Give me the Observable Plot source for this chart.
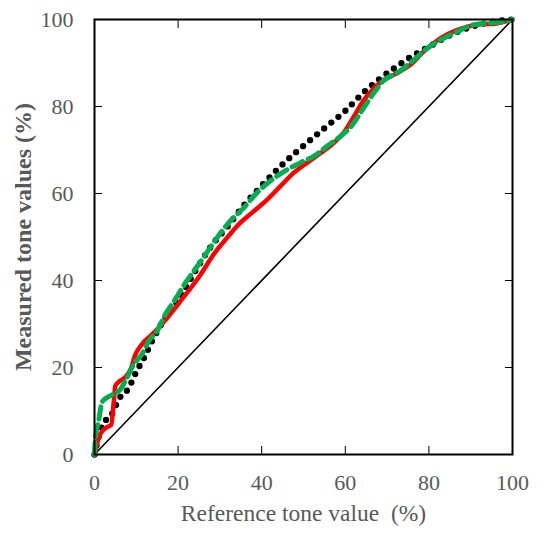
<!DOCTYPE html>
<html>
<head>
<meta charset="utf-8">
<script src="https://cdn.jsdelivr.net/npm/d3@7"></script>
<script src="https://cdn.jsdelivr.net/npm/@observablehq/plot@0.6"></script>
<style>
  body { margin: 0; background: #fff; }
</style>
</head>
<body>
<div id="chart"></div>
<script>
// values (reference tone %, measured tone %)
const dottedX = [0, 2, 4, 6, 8, 10, 12, 14, 16, 18, 20, 24, 28, 32, 36, 40, 44, 48, 52, 56, 60, 64, 68, 72, 76, 80, 84, 88, 92, 96, 100];
const dottedY = [0, 7, 9, 13, 15, 19, 22.5, 26.5, 30, 33, 35.5, 42, 48, 52.6, 57.6, 61.8, 65.8, 69.3, 72.6, 75.8, 79, 82.9, 86.2, 89, 91.6, 93.7, 95.9, 97.6, 98.8, 99.6, 100];

const redX = [0, 0.5, 1.4, 3, 4, 4.6, 5, 6.2, 7.4, 8.6, 9.8, 11.4, 13.4, 15.4, 17.8, 20.6, 25.4, 28.5, 31.7, 34.5, 37.7, 41, 44.5, 47.7, 50.9, 54.1, 57.2, 59.6, 62, 64.4, 66.8, 70, 73.2, 75.6, 78.8, 82.8, 86.8, 91.5, 96.3, 100];
const redY = [0, 2, 4.7, 6.3, 6.8, 12, 15.8, 17, 17.8, 19.5, 23, 25.4, 27.3, 29.2, 31.9, 35.3, 41.4, 46, 49.8, 52.9, 55.6, 58.3, 61.7, 64.8, 67.1, 69.3, 71.6, 74, 77.6, 81.4, 84.2, 86.5, 88.1, 89.6, 92.7, 95.7, 97.6, 98.8, 99.1, 100];

const greenX = [0, 0.2, 1, 1.8, 3, 4.6, 6.2, 7.8, 9.4, 11.4, 13, 15, 17, 18.6, 21.8, 26.1, 29.3, 32.5, 35.7, 38.9, 42.5, 46.1, 49.3, 52.5, 55.7, 58.9, 61.2, 64.4, 66.8, 69.2, 72.4, 76, 79.6, 82.8, 86.8, 90, 93.1, 97.1, 100];
const greenY = [0, 3.6, 7.8, 12, 13.1, 13.9, 15, 17.7, 20.8, 23.1, 26.1, 28.4, 32.3, 34.6, 39.5, 45.3, 49.8, 53.7, 56.7, 60.2, 63.2, 65.5, 67.1, 68.6, 70.9, 73.2, 75.2, 79.7, 83.1, 86, 87.7, 90.4, 93.4, 95.3, 97.2, 98.6, 99.1, 99.4, 100];

const diagonal = [0, 100];
const ticks = [0, 20, 40, 60, 80, 100];

const pts = (xs, ys) => xs.map((x, i) => ({x, y: ys[i]}));

const chart = Plot.plot({
  width: 550,
  height: 537,
  marginLeft: 94,
  marginRight: 38,
  marginTop: 19,
  marginBottom: 83,
  style: {fontFamily: "Liberation Serif", fontSize: "22px", color: "#595959", background: "#fff"},
  x: {domain: [0, 100]},
  y: {domain: [0, 100]},
  marks: [
    // labels
    Plot.axisX(ticks, {tickSize: 0, tickPadding: 20, label: null}),
    Plot.axisY(ticks, {tickSize: 0, tickPadding: 21, label: null}),
    // inward ticks on all four sides
    Plot.axisX(ticks, {anchor: "bottom", tickSize: -8, stroke: "black", tickFormat: () => "", label: null}),
    Plot.axisX(ticks, {anchor: "top", tickSize: -8, stroke: "black", tickFormat: () => "", label: null}),
    Plot.axisY(ticks, {anchor: "left", tickSize: -8, stroke: "black", tickFormat: () => "", label: null}),
    Plot.axisY(ticks, {anchor: "right", tickSize: -8, stroke: "black", tickFormat: () => "", label: null}),
    Plot.line(pts(diagonal, diagonal), {x: "x", y: "y", stroke: "black", strokeWidth: 1.6}),
    Plot.line(pts(dottedX, dottedY), {
      x: "x", y: "y", curve: "monotone-x", stroke: "black",
      strokeWidth: 6.3, strokeDasharray: "0 9.2", strokeLinecap: "round"
    }),
    Plot.line(pts(redX, redY), {x: "x", y: "y", curve: "monotone-x", stroke: "#ff0000", strokeWidth: 4.5}),
    Plot.line(pts(greenX, greenY), {
      x: "x", y: "y", curve: "monotone-x", stroke: "#00b050",
      strokeWidth: 5, strokeDasharray: "12 6"
    }),
    Plot.frame({stroke: "black", strokeWidth: 2}),
    Plot.text(["Reference tone value \u00a0(%)"], {frameAnchor: "bottom", dy: 66, fill: "#595959", fontSize: 23.5}),
    Plot.text(["Measured tone values (%)"], {
      frameAnchor: "left", textAnchor: "middle", rotate: -90, dx: -71,
      fill: "#595959", fontSize: 24, fontWeight: "bold"
    })
  ]
});

document.getElementById("chart").append(chart);
</script>
</body>
</html>
